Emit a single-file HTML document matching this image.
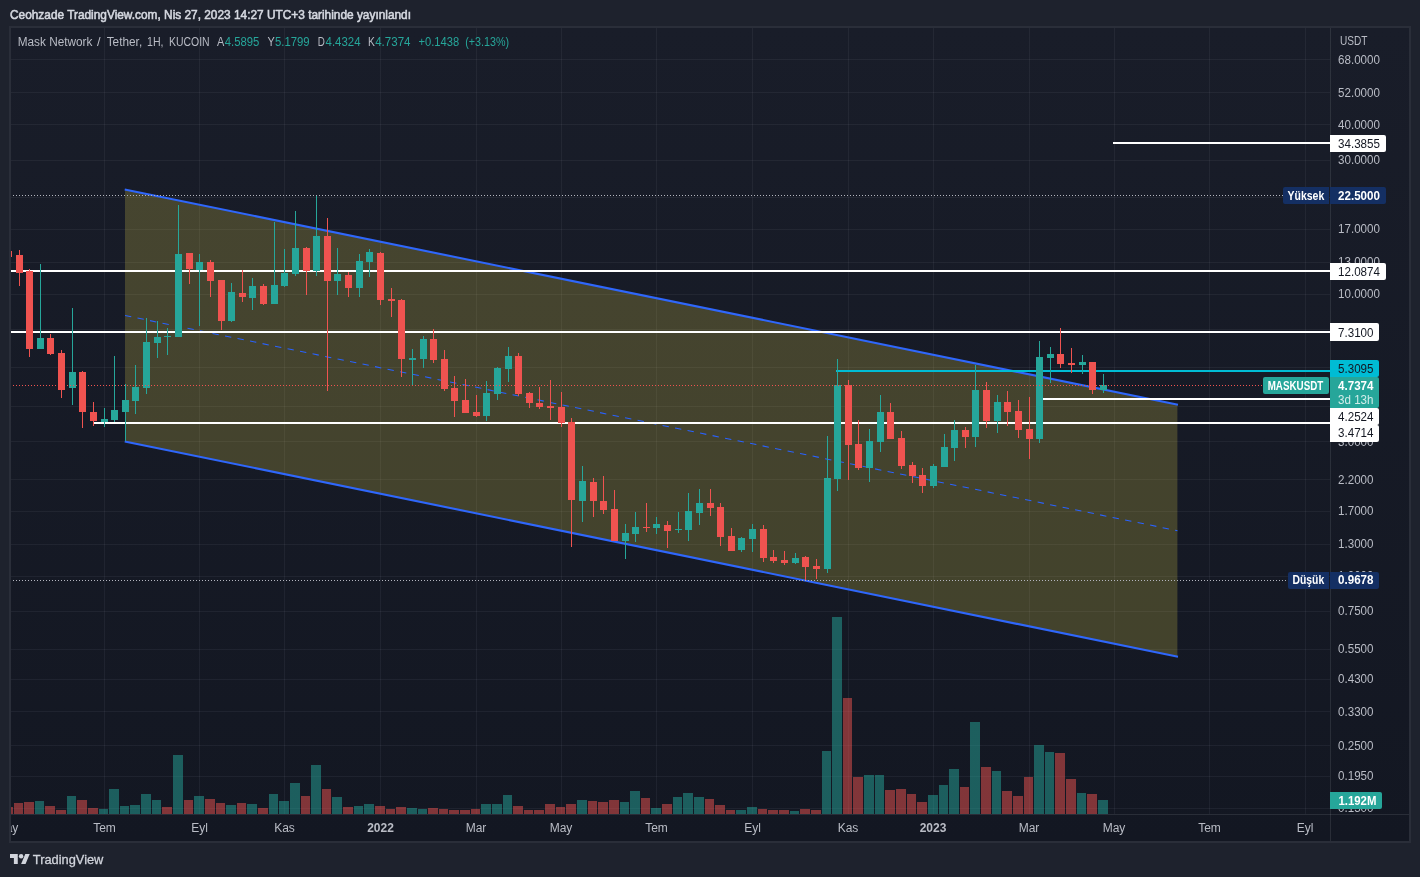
<!DOCTYPE html>
<html lang="tr"><head><meta charset="utf-8"><title>MASKUSDT</title>
<style>html,body{margin:0;padding:0;background:#1e222d;}body{width:1420px;height:877px;overflow:hidden;position:relative;font-family:"Liberation Sans",sans-serif;}svg{position:absolute;left:0;top:0;display:block}text{font-family:"Liberation Sans",sans-serif;font-size:12px}.b{font-weight:bold}</style></head><body>
<svg width="1420" height="877" viewBox="0 0 1420 877">
<defs><linearGradient id="bg" x1="0" y1="0" x2="0" y2="1"><stop offset="0" stop-color="#191d29"/><stop offset="1" stop-color="#131722"/></linearGradient>
<clipPath id="pane"><rect x="11" y="28" width="1319" height="786"/></clipPath>
<clipPath id="taxis"><rect x="11" y="815" width="1319" height="26"/></clipPath>
<clipPath id="paxis"><rect x="1331" y="28" width="78" height="786"/></clipPath></defs>
<rect width="1420" height="877" fill="#1e222d"/>
<rect x="9" y="26" width="1402" height="817" fill="#2a2e39"/>
<rect x="11" y="28" width="1398" height="813" fill="url(#bg)"/>
<g shape-rendering="crispEdges" fill="#f0f3fa" fill-opacity="0.055">
<rect x="104" y="28" width="1" height="786"/>
<rect x="199" y="28" width="1" height="786"/>
<rect x="284" y="28" width="1" height="786"/>
<rect x="380" y="28" width="1" height="786"/>
<rect x="476" y="28" width="1" height="786"/>
<rect x="561" y="28" width="1" height="786"/>
<rect x="656" y="28" width="1" height="786"/>
<rect x="752" y="28" width="1" height="786"/>
<rect x="848" y="28" width="1" height="786"/>
<rect x="933" y="28" width="1" height="786"/>
<rect x="1029" y="28" width="1" height="786"/>
<rect x="1114" y="28" width="1" height="786"/>
<rect x="1209" y="28" width="1" height="786"/>
<rect x="1305" y="28" width="1" height="786"/>
<rect x="11" y="59" width="1319" height="1"/>
<rect x="11" y="92" width="1319" height="1"/>
<rect x="11" y="124" width="1319" height="1"/>
<rect x="11" y="160" width="1319" height="1"/>
<rect x="11" y="197" width="1319" height="1"/>
<rect x="11" y="229" width="1319" height="1"/>
<rect x="11" y="262" width="1319" height="1"/>
<rect x="11" y="294" width="1319" height="1"/>
<rect x="11" y="329" width="1319" height="1"/>
<rect x="11" y="367" width="1319" height="1"/>
<rect x="11" y="406" width="1319" height="1"/>
<rect x="11" y="441" width="1319" height="1"/>
<rect x="11" y="479" width="1319" height="1"/>
<rect x="11" y="511" width="1319" height="1"/>
<rect x="11" y="544" width="1319" height="1"/>
<rect x="11" y="576" width="1319" height="1"/>
<rect x="11" y="611" width="1319" height="1"/>
<rect x="11" y="649" width="1319" height="1"/>
<rect x="11" y="679" width="1319" height="1"/>
<rect x="11" y="711" width="1319" height="1"/>
<rect x="11" y="745" width="1319" height="1"/>
<rect x="11" y="776" width="1319" height="1"/>
<rect x="11" y="808" width="1319" height="1"/>
</g>
<g shape-rendering="crispEdges" fill="#f0f3fa" fill-opacity="0.1"><rect x="1330" y="28" width="1" height="813"/><rect x="11" y="814" width="1398" height="1"/></g>
<g clip-path="url(#pane)">
<polygon points="125,189.5 1177.4,404.7 1177.4,656.7 125,441.5" fill="#ffeb50" fill-opacity="0.2"/>
<g shape-rendering="crispEdges">
<rect x="3" y="807" width="10" height="7" fill="#ef5350" fill-opacity="0.5"/>
<rect x="14" y="803" width="9" height="11" fill="#ef5350" fill-opacity="0.5"/>
<rect x="24" y="802" width="10" height="12" fill="#ef5350" fill-opacity="0.5"/>
<rect x="35" y="801" width="9" height="13" fill="#26a69a" fill-opacity="0.5"/>
<rect x="45" y="806" width="10" height="8" fill="#ef5350" fill-opacity="0.5"/>
<rect x="56" y="810" width="10" height="4" fill="#ef5350" fill-opacity="0.5"/>
<rect x="67" y="796" width="9" height="18" fill="#26a69a" fill-opacity="0.5"/>
<rect x="77" y="800" width="10" height="14" fill="#ef5350" fill-opacity="0.5"/>
<rect x="88" y="808" width="10" height="6" fill="#ef5350" fill-opacity="0.5"/>
<rect x="99" y="809" width="9" height="5" fill="#26a69a" fill-opacity="0.5"/>
<rect x="109" y="789" width="10" height="25" fill="#26a69a" fill-opacity="0.5"/>
<rect x="120" y="806" width="9" height="8" fill="#26a69a" fill-opacity="0.5"/>
<rect x="130" y="805" width="10" height="9" fill="#26a69a" fill-opacity="0.5"/>
<rect x="141" y="794" width="10" height="20" fill="#26a69a" fill-opacity="0.5"/>
<rect x="152" y="800" width="9" height="14" fill="#26a69a" fill-opacity="0.5"/>
<rect x="162" y="807" width="10" height="7" fill="#ef5350" fill-opacity="0.5"/>
<rect x="173" y="755" width="10" height="59" fill="#26a69a" fill-opacity="0.5"/>
<rect x="184" y="800" width="9" height="14" fill="#ef5350" fill-opacity="0.5"/>
<rect x="194" y="796" width="10" height="18" fill="#26a69a" fill-opacity="0.5"/>
<rect x="205" y="799" width="10" height="15" fill="#ef5350" fill-opacity="0.5"/>
<rect x="216" y="803" width="9" height="11" fill="#ef5350" fill-opacity="0.5"/>
<rect x="226" y="805" width="10" height="9" fill="#26a69a" fill-opacity="0.5"/>
<rect x="237" y="803" width="9" height="11" fill="#ef5350" fill-opacity="0.5"/>
<rect x="247" y="804" width="10" height="10" fill="#26a69a" fill-opacity="0.5"/>
<rect x="258" y="808" width="10" height="6" fill="#ef5350" fill-opacity="0.5"/>
<rect x="269" y="794" width="9" height="20" fill="#26a69a" fill-opacity="0.5"/>
<rect x="279" y="801" width="10" height="13" fill="#26a69a" fill-opacity="0.5"/>
<rect x="290" y="783" width="10" height="31" fill="#26a69a" fill-opacity="0.5"/>
<rect x="301" y="796" width="9" height="18" fill="#ef5350" fill-opacity="0.5"/>
<rect x="311" y="765" width="10" height="49" fill="#26a69a" fill-opacity="0.5"/>
<rect x="322" y="789" width="9" height="25" fill="#ef5350" fill-opacity="0.5"/>
<rect x="332" y="797" width="10" height="17" fill="#26a69a" fill-opacity="0.5"/>
<rect x="343" y="807" width="10" height="7" fill="#ef5350" fill-opacity="0.5"/>
<rect x="354" y="806" width="9" height="8" fill="#26a69a" fill-opacity="0.5"/>
<rect x="364" y="804" width="10" height="10" fill="#26a69a" fill-opacity="0.5"/>
<rect x="375" y="806" width="10" height="8" fill="#ef5350" fill-opacity="0.5"/>
<rect x="386" y="809" width="9" height="5" fill="#ef5350" fill-opacity="0.5"/>
<rect x="396" y="807" width="10" height="7" fill="#ef5350" fill-opacity="0.5"/>
<rect x="407" y="808" width="10" height="6" fill="#26a69a" fill-opacity="0.5"/>
<rect x="418" y="809" width="9" height="5" fill="#26a69a" fill-opacity="0.5"/>
<rect x="428" y="808" width="10" height="6" fill="#ef5350" fill-opacity="0.5"/>
<rect x="439" y="809" width="9" height="5" fill="#ef5350" fill-opacity="0.5"/>
<rect x="449" y="810" width="10" height="4" fill="#ef5350" fill-opacity="0.5"/>
<rect x="460" y="810" width="10" height="4" fill="#ef5350" fill-opacity="0.5"/>
<rect x="471" y="809" width="9" height="5" fill="#ef5350" fill-opacity="0.5"/>
<rect x="481" y="804" width="10" height="10" fill="#26a69a" fill-opacity="0.5"/>
<rect x="492" y="804" width="10" height="10" fill="#26a69a" fill-opacity="0.5"/>
<rect x="503" y="795" width="9" height="19" fill="#26a69a" fill-opacity="0.5"/>
<rect x="513" y="806" width="10" height="8" fill="#ef5350" fill-opacity="0.5"/>
<rect x="524" y="810" width="9" height="4" fill="#ef5350" fill-opacity="0.5"/>
<rect x="534" y="810" width="10" height="4" fill="#ef5350" fill-opacity="0.5"/>
<rect x="545" y="804" width="10" height="10" fill="#ef5350" fill-opacity="0.5"/>
<rect x="556" y="807" width="9" height="7" fill="#ef5350" fill-opacity="0.5"/>
<rect x="566" y="804" width="10" height="10" fill="#ef5350" fill-opacity="0.5"/>
<rect x="577" y="800" width="10" height="14" fill="#26a69a" fill-opacity="0.5"/>
<rect x="588" y="801" width="9" height="13" fill="#ef5350" fill-opacity="0.5"/>
<rect x="598" y="802" width="10" height="12" fill="#ef5350" fill-opacity="0.5"/>
<rect x="609" y="800" width="10" height="14" fill="#ef5350" fill-opacity="0.5"/>
<rect x="620" y="802" width="9" height="12" fill="#26a69a" fill-opacity="0.5"/>
<rect x="630" y="791" width="10" height="23" fill="#26a69a" fill-opacity="0.5"/>
<rect x="641" y="798" width="9" height="16" fill="#ef5350" fill-opacity="0.5"/>
<rect x="651" y="808" width="10" height="6" fill="#26a69a" fill-opacity="0.5"/>
<rect x="662" y="804" width="10" height="10" fill="#ef5350" fill-opacity="0.5"/>
<rect x="673" y="797" width="9" height="17" fill="#26a69a" fill-opacity="0.5"/>
<rect x="683" y="793" width="10" height="21" fill="#26a69a" fill-opacity="0.5"/>
<rect x="694" y="797" width="10" height="17" fill="#26a69a" fill-opacity="0.5"/>
<rect x="705" y="799" width="9" height="15" fill="#ef5350" fill-opacity="0.5"/>
<rect x="715" y="805" width="10" height="9" fill="#ef5350" fill-opacity="0.5"/>
<rect x="726" y="810" width="9" height="4" fill="#ef5350" fill-opacity="0.5"/>
<rect x="736" y="810" width="10" height="4" fill="#26a69a" fill-opacity="0.5"/>
<rect x="747" y="807" width="10" height="7" fill="#26a69a" fill-opacity="0.5"/>
<rect x="758" y="809" width="9" height="5" fill="#ef5350" fill-opacity="0.5"/>
<rect x="768" y="810" width="10" height="4" fill="#ef5350" fill-opacity="0.5"/>
<rect x="779" y="810" width="10" height="4" fill="#ef5350" fill-opacity="0.5"/>
<rect x="790" y="811" width="9" height="3" fill="#26a69a" fill-opacity="0.5"/>
<rect x="800" y="809" width="10" height="5" fill="#ef5350" fill-opacity="0.5"/>
<rect x="811" y="810" width="10" height="4" fill="#ef5350" fill-opacity="0.5"/>
<rect x="822" y="751" width="9" height="63" fill="#26a69a" fill-opacity="0.5"/>
<rect x="832" y="617" width="10" height="197" fill="#26a69a" fill-opacity="0.5"/>
<rect x="843" y="698" width="9" height="116" fill="#ef5350" fill-opacity="0.5"/>
<rect x="853" y="777" width="10" height="37" fill="#ef5350" fill-opacity="0.5"/>
<rect x="864" y="775" width="10" height="39" fill="#26a69a" fill-opacity="0.5"/>
<rect x="875" y="775" width="9" height="39" fill="#26a69a" fill-opacity="0.5"/>
<rect x="885" y="790" width="10" height="24" fill="#ef5350" fill-opacity="0.5"/>
<rect x="896" y="789" width="10" height="25" fill="#ef5350" fill-opacity="0.5"/>
<rect x="907" y="794" width="9" height="20" fill="#ef5350" fill-opacity="0.5"/>
<rect x="917" y="802" width="10" height="12" fill="#ef5350" fill-opacity="0.5"/>
<rect x="928" y="795" width="10" height="19" fill="#26a69a" fill-opacity="0.5"/>
<rect x="939" y="785" width="9" height="29" fill="#26a69a" fill-opacity="0.5"/>
<rect x="949" y="769" width="10" height="45" fill="#26a69a" fill-opacity="0.5"/>
<rect x="960" y="787" width="9" height="27" fill="#ef5350" fill-opacity="0.5"/>
<rect x="970" y="722" width="10" height="92" fill="#26a69a" fill-opacity="0.5"/>
<rect x="981" y="767" width="10" height="47" fill="#ef5350" fill-opacity="0.5"/>
<rect x="992" y="771" width="9" height="43" fill="#26a69a" fill-opacity="0.5"/>
<rect x="1002" y="791" width="10" height="23" fill="#ef5350" fill-opacity="0.5"/>
<rect x="1013" y="796" width="10" height="18" fill="#ef5350" fill-opacity="0.5"/>
<rect x="1024" y="777" width="9" height="37" fill="#ef5350" fill-opacity="0.5"/>
<rect x="1034" y="745" width="10" height="69" fill="#26a69a" fill-opacity="0.5"/>
<rect x="1045" y="752" width="9" height="62" fill="#26a69a" fill-opacity="0.5"/>
<rect x="1055" y="753" width="10" height="61" fill="#ef5350" fill-opacity="0.5"/>
<rect x="1066" y="779" width="10" height="35" fill="#ef5350" fill-opacity="0.5"/>
<rect x="1077" y="793" width="9" height="21" fill="#26a69a" fill-opacity="0.5"/>
<rect x="1087" y="794" width="10" height="20" fill="#ef5350" fill-opacity="0.5"/>
<rect x="1098" y="800" width="10" height="14" fill="#26a69a" fill-opacity="0.5"/>
</g>
<line x1="125" y1="315.5" x2="1177.5" y2="530.7" stroke="#2962ff" stroke-width="1.05" stroke-dasharray="6.4 6.36"/>
<line x1="124.7" y1="189.45" x2="1178" y2="404.8" stroke="#2f67fb" stroke-width="2.1"/>
<line x1="124.7" y1="441.45" x2="1178" y2="656.8" stroke="#2f67fb" stroke-width="2.1"/>
<line x1="13" y1="195.5" x2="1283" y2="195.5" stroke="#b4b6bf" stroke-width="1" stroke-dasharray="1 2" shape-rendering="crispEdges"/>
<line x1="13" y1="580.5" x2="1288" y2="580.5" stroke="#b4b6bf" stroke-width="1" stroke-dasharray="1 2" shape-rendering="crispEdges"/>
<g shape-rendering="crispEdges">
<rect x="11" y="270" width="1319" height="2" fill="#fff"/>
<rect x="11" y="331" width="1319" height="2" fill="#fff"/>
<rect x="93" y="422" width="1237" height="2" fill="#fff"/>
<rect x="1043" y="398" width="287" height="2" fill="#fff"/>
<rect x="1113" y="142" width="217" height="2" fill="#fff"/>
<rect x="836" y="370" width="494" height="2" fill="#00bcd4"/>
</g>
<g shape-rendering="crispEdges">
<rect x="8" y="251" width="1" height="6" fill="#ef5350"/>
<rect x="5" y="251" width="7" height="6" fill="#ef5350"/>
<rect x="19" y="250" width="1" height="36" fill="#ef5350"/>
<rect x="16" y="255" width="7" height="18" fill="#ef5350"/>
<rect x="29" y="269" width="1" height="88" fill="#ef5350"/>
<rect x="26" y="271" width="7" height="78" fill="#ef5350"/>
<rect x="40" y="264" width="1" height="85" fill="#26a69a"/>
<rect x="37" y="338" width="7" height="11" fill="#26a69a"/>
<rect x="50" y="334" width="1" height="21" fill="#ef5350"/>
<rect x="47" y="338" width="7" height="16" fill="#ef5350"/>
<rect x="61" y="350" width="1" height="48" fill="#ef5350"/>
<rect x="58" y="353" width="7" height="37" fill="#ef5350"/>
<rect x="72" y="308" width="1" height="97" fill="#26a69a"/>
<rect x="69" y="372" width="7" height="16" fill="#26a69a"/>
<rect x="82" y="371" width="1" height="57" fill="#ef5350"/>
<rect x="79" y="372" width="7" height="40" fill="#ef5350"/>
<rect x="93" y="402" width="1" height="24" fill="#ef5350"/>
<rect x="90" y="412" width="7" height="9" fill="#ef5350"/>
<rect x="104" y="408" width="1" height="19" fill="#26a69a"/>
<rect x="101" y="419" width="7" height="3" fill="#26a69a"/>
<rect x="114" y="356" width="1" height="66" fill="#26a69a"/>
<rect x="111" y="410" width="7" height="10" fill="#26a69a"/>
<rect x="125" y="384" width="1" height="57" fill="#26a69a"/>
<rect x="122" y="400" width="7" height="12" fill="#26a69a"/>
<rect x="135" y="365" width="1" height="49" fill="#26a69a"/>
<rect x="132" y="387" width="7" height="14" fill="#26a69a"/>
<rect x="146" y="318" width="1" height="76" fill="#26a69a"/>
<rect x="143" y="342" width="7" height="46" fill="#26a69a"/>
<rect x="157" y="321" width="1" height="37" fill="#26a69a"/>
<rect x="154" y="337" width="7" height="6" fill="#26a69a"/>
<rect x="167" y="328" width="1" height="27" fill="#26a69a"/>
<rect x="164" y="336" width="7" height="1" fill="#26a69a"/>
<rect x="178" y="205" width="1" height="132" fill="#26a69a"/>
<rect x="175" y="254" width="7" height="83" fill="#26a69a"/>
<rect x="189" y="253" width="1" height="31" fill="#ef5350"/>
<rect x="186" y="253" width="7" height="16" fill="#ef5350"/>
<rect x="199" y="254" width="1" height="72" fill="#26a69a"/>
<rect x="196" y="262" width="7" height="8" fill="#26a69a"/>
<rect x="210" y="260" width="1" height="37" fill="#ef5350"/>
<rect x="207" y="262" width="7" height="19" fill="#ef5350"/>
<rect x="221" y="280" width="1" height="50" fill="#ef5350"/>
<rect x="218" y="280" width="7" height="41" fill="#ef5350"/>
<rect x="231" y="283" width="1" height="39" fill="#26a69a"/>
<rect x="228" y="292" width="7" height="29" fill="#26a69a"/>
<rect x="242" y="270" width="1" height="32" fill="#ef5350"/>
<rect x="239" y="293" width="7" height="4" fill="#ef5350"/>
<rect x="252" y="278" width="1" height="32" fill="#26a69a"/>
<rect x="249" y="286" width="7" height="12" fill="#26a69a"/>
<rect x="263" y="284" width="1" height="21" fill="#ef5350"/>
<rect x="260" y="286" width="7" height="18" fill="#ef5350"/>
<rect x="274" y="222" width="1" height="82" fill="#26a69a"/>
<rect x="271" y="285" width="7" height="19" fill="#26a69a"/>
<rect x="284" y="249" width="1" height="38" fill="#26a69a"/>
<rect x="281" y="273" width="7" height="13" fill="#26a69a"/>
<rect x="295" y="211" width="1" height="65" fill="#26a69a"/>
<rect x="292" y="248" width="7" height="26" fill="#26a69a"/>
<rect x="306" y="247" width="1" height="48" fill="#ef5350"/>
<rect x="303" y="248" width="7" height="23" fill="#ef5350"/>
<rect x="316" y="196" width="1" height="80" fill="#26a69a"/>
<rect x="313" y="236" width="7" height="35" fill="#26a69a"/>
<rect x="327" y="218" width="1" height="173" fill="#ef5350"/>
<rect x="324" y="236" width="7" height="45" fill="#ef5350"/>
<rect x="337" y="248" width="1" height="47" fill="#26a69a"/>
<rect x="334" y="274" width="7" height="7" fill="#26a69a"/>
<rect x="348" y="272" width="1" height="25" fill="#ef5350"/>
<rect x="345" y="275" width="7" height="13" fill="#ef5350"/>
<rect x="359" y="254" width="1" height="43" fill="#26a69a"/>
<rect x="356" y="261" width="7" height="27" fill="#26a69a"/>
<rect x="369" y="249" width="1" height="28" fill="#26a69a"/>
<rect x="366" y="252" width="7" height="10" fill="#26a69a"/>
<rect x="380" y="252" width="1" height="53" fill="#ef5350"/>
<rect x="377" y="253" width="7" height="47" fill="#ef5350"/>
<rect x="391" y="288" width="1" height="29" fill="#ef5350"/>
<rect x="388" y="299" width="7" height="2" fill="#ef5350"/>
<rect x="401" y="299" width="1" height="78" fill="#ef5350"/>
<rect x="398" y="300" width="7" height="59" fill="#ef5350"/>
<rect x="412" y="349" width="1" height="36" fill="#26a69a"/>
<rect x="409" y="358" width="7" height="2" fill="#26a69a"/>
<rect x="423" y="336" width="1" height="32" fill="#26a69a"/>
<rect x="420" y="339" width="7" height="20" fill="#26a69a"/>
<rect x="433" y="329" width="1" height="34" fill="#ef5350"/>
<rect x="430" y="339" width="7" height="21" fill="#ef5350"/>
<rect x="444" y="350" width="1" height="41" fill="#ef5350"/>
<rect x="441" y="359" width="7" height="30" fill="#ef5350"/>
<rect x="454" y="376" width="1" height="41" fill="#ef5350"/>
<rect x="451" y="388" width="7" height="13" fill="#ef5350"/>
<rect x="465" y="379" width="1" height="34" fill="#ef5350"/>
<rect x="462" y="400" width="7" height="13" fill="#ef5350"/>
<rect x="476" y="395" width="1" height="22" fill="#ef5350"/>
<rect x="473" y="412" width="7" height="4" fill="#ef5350"/>
<rect x="486" y="381" width="1" height="40" fill="#26a69a"/>
<rect x="483" y="393" width="7" height="23" fill="#26a69a"/>
<rect x="497" y="367" width="1" height="33" fill="#26a69a"/>
<rect x="494" y="368" width="7" height="26" fill="#26a69a"/>
<rect x="508" y="347" width="1" height="35" fill="#26a69a"/>
<rect x="505" y="356" width="7" height="13" fill="#26a69a"/>
<rect x="518" y="353" width="1" height="43" fill="#ef5350"/>
<rect x="515" y="356" width="7" height="38" fill="#ef5350"/>
<rect x="529" y="392" width="1" height="16" fill="#ef5350"/>
<rect x="526" y="393" width="7" height="10" fill="#ef5350"/>
<rect x="539" y="387" width="1" height="22" fill="#ef5350"/>
<rect x="536" y="403" width="7" height="4" fill="#ef5350"/>
<rect x="550" y="380" width="1" height="40" fill="#ef5350"/>
<rect x="547" y="406" width="7" height="2" fill="#ef5350"/>
<rect x="561" y="392" width="1" height="35" fill="#ef5350"/>
<rect x="558" y="407" width="7" height="16" fill="#ef5350"/>
<rect x="571" y="418" width="1" height="129" fill="#ef5350"/>
<rect x="568" y="422" width="7" height="78" fill="#ef5350"/>
<rect x="582" y="466" width="1" height="56" fill="#26a69a"/>
<rect x="579" y="481" width="7" height="20" fill="#26a69a"/>
<rect x="593" y="478" width="1" height="39" fill="#ef5350"/>
<rect x="590" y="482" width="7" height="19" fill="#ef5350"/>
<rect x="603" y="476" width="1" height="38" fill="#ef5350"/>
<rect x="600" y="501" width="7" height="9" fill="#ef5350"/>
<rect x="614" y="490" width="1" height="51" fill="#ef5350"/>
<rect x="611" y="509" width="7" height="32" fill="#ef5350"/>
<rect x="625" y="524" width="1" height="35" fill="#26a69a"/>
<rect x="622" y="533" width="7" height="8" fill="#26a69a"/>
<rect x="635" y="512" width="1" height="30" fill="#26a69a"/>
<rect x="632" y="527" width="7" height="7" fill="#26a69a"/>
<rect x="646" y="503" width="1" height="29" fill="#ef5350"/>
<rect x="643" y="527" width="7" height="1" fill="#ef5350"/>
<rect x="656" y="517" width="1" height="17" fill="#26a69a"/>
<rect x="653" y="524" width="7" height="4" fill="#26a69a"/>
<rect x="667" y="521" width="1" height="27" fill="#ef5350"/>
<rect x="664" y="525" width="7" height="6" fill="#ef5350"/>
<rect x="678" y="512" width="1" height="21" fill="#26a69a"/>
<rect x="675" y="529" width="7" height="1" fill="#26a69a"/>
<rect x="688" y="493" width="1" height="48" fill="#26a69a"/>
<rect x="685" y="511" width="7" height="19" fill="#26a69a"/>
<rect x="699" y="489" width="1" height="36" fill="#26a69a"/>
<rect x="696" y="503" width="7" height="10" fill="#26a69a"/>
<rect x="710" y="489" width="1" height="27" fill="#ef5350"/>
<rect x="707" y="503" width="7" height="5" fill="#ef5350"/>
<rect x="720" y="503" width="1" height="43" fill="#ef5350"/>
<rect x="717" y="507" width="7" height="30" fill="#ef5350"/>
<rect x="731" y="528" width="1" height="23" fill="#ef5350"/>
<rect x="728" y="536" width="7" height="15" fill="#ef5350"/>
<rect x="741" y="537" width="1" height="15" fill="#26a69a"/>
<rect x="738" y="538" width="7" height="12" fill="#26a69a"/>
<rect x="752" y="524" width="1" height="28" fill="#26a69a"/>
<rect x="749" y="529" width="7" height="10" fill="#26a69a"/>
<rect x="763" y="525" width="1" height="37" fill="#ef5350"/>
<rect x="760" y="529" width="7" height="29" fill="#ef5350"/>
<rect x="773" y="550" width="1" height="13" fill="#ef5350"/>
<rect x="770" y="557" width="7" height="4" fill="#ef5350"/>
<rect x="784" y="551" width="1" height="14" fill="#ef5350"/>
<rect x="781" y="560" width="7" height="3" fill="#ef5350"/>
<rect x="795" y="553" width="1" height="11" fill="#26a69a"/>
<rect x="792" y="558" width="7" height="5" fill="#26a69a"/>
<rect x="805" y="556" width="1" height="24" fill="#ef5350"/>
<rect x="802" y="557" width="7" height="10" fill="#ef5350"/>
<rect x="816" y="559" width="1" height="20" fill="#ef5350"/>
<rect x="813" y="566" width="7" height="3" fill="#ef5350"/>
<rect x="827" y="436" width="1" height="137" fill="#26a69a"/>
<rect x="824" y="478" width="7" height="91" fill="#26a69a"/>
<rect x="837" y="359" width="1" height="132" fill="#26a69a"/>
<rect x="834" y="385" width="7" height="94" fill="#26a69a"/>
<rect x="848" y="380" width="1" height="100" fill="#ef5350"/>
<rect x="845" y="385" width="7" height="60" fill="#ef5350"/>
<rect x="858" y="420" width="1" height="50" fill="#ef5350"/>
<rect x="855" y="444" width="7" height="24" fill="#ef5350"/>
<rect x="869" y="429" width="1" height="53" fill="#26a69a"/>
<rect x="866" y="441" width="7" height="27" fill="#26a69a"/>
<rect x="880" y="395" width="1" height="57" fill="#26a69a"/>
<rect x="877" y="412" width="7" height="30" fill="#26a69a"/>
<rect x="890" y="403" width="1" height="36" fill="#ef5350"/>
<rect x="887" y="412" width="7" height="27" fill="#ef5350"/>
<rect x="901" y="431" width="1" height="38" fill="#ef5350"/>
<rect x="898" y="438" width="7" height="28" fill="#ef5350"/>
<rect x="912" y="462" width="1" height="21" fill="#ef5350"/>
<rect x="909" y="465" width="7" height="11" fill="#ef5350"/>
<rect x="922" y="468" width="1" height="25" fill="#ef5350"/>
<rect x="919" y="475" width="7" height="11" fill="#ef5350"/>
<rect x="933" y="464" width="1" height="24" fill="#26a69a"/>
<rect x="930" y="466" width="7" height="20" fill="#26a69a"/>
<rect x="944" y="434" width="1" height="33" fill="#26a69a"/>
<rect x="941" y="447" width="7" height="20" fill="#26a69a"/>
<rect x="954" y="420" width="1" height="41" fill="#26a69a"/>
<rect x="951" y="430" width="7" height="18" fill="#26a69a"/>
<rect x="965" y="427" width="1" height="21" fill="#ef5350"/>
<rect x="962" y="430" width="7" height="7" fill="#ef5350"/>
<rect x="975" y="365" width="1" height="82" fill="#26a69a"/>
<rect x="972" y="390" width="7" height="47" fill="#26a69a"/>
<rect x="986" y="382" width="1" height="46" fill="#ef5350"/>
<rect x="983" y="390" width="7" height="31" fill="#ef5350"/>
<rect x="997" y="395" width="1" height="38" fill="#26a69a"/>
<rect x="994" y="402" width="7" height="19" fill="#26a69a"/>
<rect x="1007" y="391" width="1" height="35" fill="#ef5350"/>
<rect x="1004" y="402" width="7" height="10" fill="#ef5350"/>
<rect x="1018" y="400" width="1" height="38" fill="#ef5350"/>
<rect x="1015" y="411" width="7" height="19" fill="#ef5350"/>
<rect x="1029" y="397" width="1" height="62" fill="#ef5350"/>
<rect x="1026" y="429" width="7" height="10" fill="#ef5350"/>
<rect x="1039" y="341" width="1" height="102" fill="#26a69a"/>
<rect x="1036" y="357" width="7" height="82" fill="#26a69a"/>
<rect x="1050" y="347" width="1" height="36" fill="#26a69a"/>
<rect x="1047" y="354" width="7" height="4" fill="#26a69a"/>
<rect x="1060" y="328" width="1" height="40" fill="#ef5350"/>
<rect x="1057" y="354" width="7" height="10" fill="#ef5350"/>
<rect x="1071" y="348" width="1" height="25" fill="#ef5350"/>
<rect x="1068" y="363" width="7" height="2" fill="#ef5350"/>
<rect x="1082" y="355" width="1" height="19" fill="#26a69a"/>
<rect x="1079" y="362" width="7" height="3" fill="#26a69a"/>
<rect x="1092" y="362" width="1" height="32" fill="#ef5350"/>
<rect x="1089" y="362" width="7" height="28" fill="#ef5350"/>
<rect x="1103" y="374" width="1" height="19" fill="#26a69a"/>
<rect x="1100" y="385" width="7" height="5" fill="#26a69a"/>
</g>
<line x1="13" y1="385.5" x2="1263" y2="385.5" stroke="#ef5350" stroke-width="1" stroke-dasharray="1 2" shape-rendering="crispEdges"/>
</g>
<g clip-path="url(#paxis)">
<text x="1340" y="45" fill="#b9bcc5" textLength="27.5" lengthAdjust="spacingAndGlyphs">USDT</text>
<text x="1338" y="63.9" fill="#b9bcc5" textLength="42" lengthAdjust="spacingAndGlyphs">68.0000</text>
<text x="1338" y="96.7" fill="#b9bcc5" textLength="42" lengthAdjust="spacingAndGlyphs">52.0000</text>
<text x="1338" y="128.8" fill="#b9bcc5" textLength="42" lengthAdjust="spacingAndGlyphs">40.0000</text>
<text x="1338" y="164.0" fill="#b9bcc5" textLength="42" lengthAdjust="spacingAndGlyphs">30.0000</text>
<text x="1338" y="201.9" fill="#b9bcc5" textLength="42" lengthAdjust="spacingAndGlyphs">22.0000</text>
<text x="1338" y="233.4" fill="#b9bcc5" textLength="42" lengthAdjust="spacingAndGlyphs">17.0000</text>
<text x="1338" y="266.3" fill="#b9bcc5" textLength="42" lengthAdjust="spacingAndGlyphs">13.0000</text>
<text x="1338" y="298.3" fill="#b9bcc5" textLength="42" lengthAdjust="spacingAndGlyphs">10.0000</text>
<text x="1338" y="333.5" fill="#b9bcc5" textLength="35.5" lengthAdjust="spacingAndGlyphs">7.5000</text>
<text x="1338" y="371.5" fill="#b9bcc5" textLength="35.5" lengthAdjust="spacingAndGlyphs">5.5000</text>
<text x="1338" y="410.4" fill="#b9bcc5" textLength="35.5" lengthAdjust="spacingAndGlyphs">4.0000</text>
<text x="1338" y="445.6" fill="#b9bcc5" textLength="35.5" lengthAdjust="spacingAndGlyphs">3.0000</text>
<text x="1338" y="483.5" fill="#b9bcc5" textLength="35.5" lengthAdjust="spacingAndGlyphs">2.2000</text>
<text x="1338" y="515.0" fill="#b9bcc5" textLength="35.5" lengthAdjust="spacingAndGlyphs">1.7000</text>
<text x="1338" y="547.9" fill="#b9bcc5" textLength="35.5" lengthAdjust="spacingAndGlyphs">1.3000</text>
<text x="1338" y="579.9" fill="#b9bcc5" textLength="35.5" lengthAdjust="spacingAndGlyphs">1.0000</text>
<text x="1338" y="615.1" fill="#b9bcc5" textLength="35.5" lengthAdjust="spacingAndGlyphs">0.7500</text>
<text x="1338" y="653.1" fill="#b9bcc5" textLength="35.5" lengthAdjust="spacingAndGlyphs">0.5500</text>
<text x="1338" y="683.2" fill="#b9bcc5" textLength="35.5" lengthAdjust="spacingAndGlyphs">0.4300</text>
<text x="1338" y="715.5" fill="#b9bcc5" textLength="35.5" lengthAdjust="spacingAndGlyphs">0.3300</text>
<text x="1338" y="749.5" fill="#b9bcc5" textLength="35.5" lengthAdjust="spacingAndGlyphs">0.2500</text>
<text x="1338" y="779.9" fill="#b9bcc5" textLength="35.5" lengthAdjust="spacingAndGlyphs">0.1950</text>
<text x="1338" y="812.0" fill="#b9bcc5" textLength="35.5" lengthAdjust="spacingAndGlyphs">0.1500</text>
</g>
<path d="M1330 135H1384Q1386 135 1386 137V150Q1386 152 1384 152H1330Z" fill="#fff"/>
<text x="1338" y="147.8" fill="#131722" textLength="42" lengthAdjust="spacingAndGlyphs">34.3855</text>
<path d="M1329 187H1285Q1283 187 1283 189V202Q1283 204 1285 204H1329Z" fill="#142f63"/>
<text x="1287.5" y="199.7" fill="#fff" class="b" textLength="36.8" lengthAdjust="spacingAndGlyphs">Yüksek</text>
<path d="M1330 187H1384Q1386 187 1386 189V202Q1386 204 1384 204H1330Z" fill="#142f63"/>
<text x="1338" y="199.7" fill="#fff" class="b" textLength="42" lengthAdjust="spacingAndGlyphs">22.5000</text>
<path d="M1330 263H1384Q1386 263 1386 265V278Q1386 280 1384 280H1330Z" fill="#fff"/>
<text x="1338" y="275.8" fill="#131722" textLength="42" lengthAdjust="spacingAndGlyphs">12.0874</text>
<path d="M1330 323H1377Q1379 323 1379 325V339Q1379 341 1377 341H1330Z" fill="#fff"/>
<text x="1338" y="336.8" fill="#131722" textLength="35.5" lengthAdjust="spacingAndGlyphs">7.3100</text>
<path d="M1330 360H1377Q1379 360 1379 362V375Q1379 377 1377 377H1330Z" fill="#00bcd4"/>
<text x="1338" y="372.8" fill="#131722" textLength="35.5" lengthAdjust="spacingAndGlyphs">5.3095</text>
<rect x="1263" y="377" width="66" height="17" rx="2" ry="2" fill="#26a69a"/>
<text x="1267.7" y="389.7" fill="#fff" class="b" textLength="55.6" lengthAdjust="spacingAndGlyphs">MASKUSDT</text>
<path d="M1330 377H1377Q1379 377 1379 379V406Q1379 408 1377 408H1330Z" fill="#26a69a"/>
<text x="1338" y="389.7" fill="#fff" class="b" textLength="35.5" lengthAdjust="spacingAndGlyphs">4.7374</text>
<text x="1338" y="403.5" fill="#d3edea" textLength="35.5" lengthAdjust="spacingAndGlyphs">3d 13h</text>
<path d="M1330 408H1377Q1379 408 1379 410V423Q1379 425 1377 425H1330Z" fill="#fff"/>
<text x="1338" y="420.6" fill="#131722" textLength="35.5" lengthAdjust="spacingAndGlyphs">4.2524</text>
<path d="M1330 425H1377Q1379 425 1379 427V440Q1379 442 1377 442H1330Z" fill="#fff"/>
<text x="1338" y="437.3" fill="#131722" textLength="35.5" lengthAdjust="spacingAndGlyphs">3.4714</text>
<path d="M1329 572H1290Q1288 572 1288 574V587Q1288 589 1290 589H1329Z" fill="#142f63"/>
<text x="1292.5" y="584" fill="#fff" class="b" textLength="31.7" lengthAdjust="spacingAndGlyphs">Düşük</text>
<path d="M1330 572H1377Q1379 572 1379 574V587Q1379 589 1377 589H1330Z" fill="#142f63"/>
<text x="1338" y="584" fill="#fff" class="b" textLength="35.5" lengthAdjust="spacingAndGlyphs">0.9678</text>
<path d="M1330 792H1380Q1382 792 1382 794V807Q1382 809 1380 809H1330Z" fill="#26a69a"/>
<text x="1338.4" y="804.6" fill="#fff" class="b" textLength="38" lengthAdjust="spacingAndGlyphs">1.192M</text>
<g clip-path="url(#taxis)" text-anchor="middle">
<text x="7" y="832" fill="#b9bcc5">May</text>
<text x="104.5" y="832" fill="#b9bcc5">Tem</text>
<text x="199.5" y="832" fill="#b9bcc5">Eyl</text>
<text x="284.5" y="832" fill="#b9bcc5">Kas</text>
<text x="380.5" y="832" fill="#b9bcc5" class="b">2022</text>
<text x="476" y="832" fill="#b9bcc5">Mar</text>
<text x="561" y="832" fill="#b9bcc5">May</text>
<text x="656.5" y="832" fill="#b9bcc5">Tem</text>
<text x="752.5" y="832" fill="#b9bcc5">Eyl</text>
<text x="848" y="832" fill="#b9bcc5">Kas</text>
<text x="933" y="832" fill="#b9bcc5" class="b">2023</text>
<text x="1029" y="832" fill="#b9bcc5">Mar</text>
<text x="1114" y="832" fill="#b9bcc5">May</text>
<text x="1209.5" y="832" fill="#b9bcc5">Tem</text>
<text x="1305" y="832" fill="#b9bcc5">Eyl</text>
</g>
<text y="46" fill="#b9bcc5"><tspan x="17.7" textLength="74.7" lengthAdjust="spacingAndGlyphs">Mask Network</tspan><tspan x="93.5" textLength="10.7" lengthAdjust="spacingAndGlyphs"> / </tspan><tspan x="106.7" textLength="35.5" lengthAdjust="spacingAndGlyphs">Tether,</tspan><tspan x="143.6" textLength="3.4"> </tspan><tspan x="147" textLength="16.5" lengthAdjust="spacingAndGlyphs">1H,</tspan><tspan x="165.6" textLength="3.4"> </tspan><tspan x="169" textLength="40.6" lengthAdjust="spacingAndGlyphs">KUCOIN</tspan></text>
<text x="216.9" y="46" fill="#b9bcc5" textLength="7.3" lengthAdjust="spacingAndGlyphs">A</text>
<text x="224.8" y="46" fill="#26a69a" textLength="34.6" lengthAdjust="spacingAndGlyphs">4.5895</text>
<text x="267.5" y="46" fill="#b9bcc5" textLength="7.3" lengthAdjust="spacingAndGlyphs">Y</text>
<text x="275" y="46" fill="#26a69a" textLength="34.6" lengthAdjust="spacingAndGlyphs">5.1799</text>
<text x="317.8" y="46" fill="#b9bcc5" textLength="7.1" lengthAdjust="spacingAndGlyphs">D</text>
<text x="325.6" y="46" fill="#26a69a" textLength="34.9" lengthAdjust="spacingAndGlyphs">4.4324</text>
<text x="368" y="46" fill="#b9bcc5" textLength="6.9" lengthAdjust="spacingAndGlyphs">K</text>
<text x="375.2" y="46" fill="#26a69a" textLength="35.3" lengthAdjust="spacingAndGlyphs">4.7374</text>
<text x="418.5" y="46" fill="#26a69a" textLength="40.7" lengthAdjust="spacingAndGlyphs">+0.1438</text>
<text x="465.2" y="46" fill="#26a69a" textLength="43.9" lengthAdjust="spacingAndGlyphs">(+3.13%)</text>
<text x="10" y="19" fill="#d5d8e0" textLength="401" lengthAdjust="spacingAndGlyphs" stroke="#d5d8e0" stroke-width="0.55">Ceohzade TradingView.com, Nis 27, 2023 14:27 UTC+3 tarihinde yayınlandı</text>
<g fill="#d1d4dc"><svg x="10" y="854" width="20" height="10" viewBox="0 4 36 18" preserveAspectRatio="none"><path d="M14 22H7V11H0V4h14v18z"/><circle cx="20" cy="8" r="4"/><path d="M28 22h-8l7.5-18h8L28 22z"/></svg></g>
<text x="32.8" y="863.6" fill="#d1d4dc" stroke="#d1d4dc" stroke-width="0.3" style="font-size:13px" textLength="70.6" lengthAdjust="spacingAndGlyphs">TradingView</text>
</svg></body></html>
